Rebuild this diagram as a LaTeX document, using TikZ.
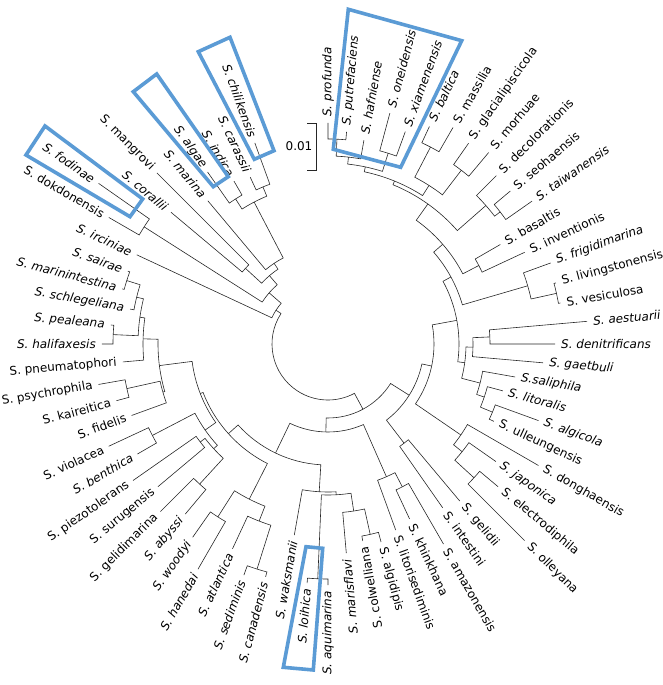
\documentclass[tikz,border=0pt]{standalone}
\usepackage{fontspec}
\setmainfont{DejaVu Sans}
\definecolor{boxblue}{RGB}{91,155,213}
\tikzset{
  branch/.style={line width=0.6pt, black!85},
  lab/.style={inner sep=2pt, font=\fontsize{12}{14}\selectfont},
  rlab/.style={lab, anchor=west, rotate=#1},
  llab/.style={lab, anchor=east, rotate=#1-180},
  hilite/.style={draw=boxblue, line width=3.6pt, line join=miter}
}
\newcommand{\clade}[5]{\draw[branch] (#2:#3) -- (#2:#1) arc[start angle=#2, end angle=#4, radius=#1] -- (#4:#5);}
\newcommand{\rleaf}[4]{\node[rlab=#2] (#1) at (#2:{#3+4}) {#4};}
\newcommand{\lleaf}[4]{\node[llab=#2] (#1) at (#2:{#3+4}) {#4};}
\begin{document}
\begin{tikzpicture}[x=1pt, y=1pt]
\useasboundingbox (-328,-341) rectangle (335,344);

% upper left
\clade{56}{147}{62}{298.2}{74}
\clade{62}{139}{78}{155}{211}
\clade{78}{130.6}{90}{147.5}{218}
\clade{218}{145}{280}{150}{253}
\clade{90}{123.75}{97}{137.5}{112}
\clade{112}{135}{242}{140}{205}
\clade{97}{117.5}{160}{130}{187}
\clade{160}{112.5}{170}{122.5}{172}
\clade{170}{110}{214}{115}{184}
\clade{172}{120}{188}{125}{210}
% lower half
\clade{74}{268.6}{88}{327.75}{96}
\clade{88}{244.3}{121}{293.75}{145}
\clade{121}{222}{134}{266.6}{148}
\clade{134}{201.2}{137}{243.1}{174}
\clade{137}{187.3}{170}{215}{150}
\clade{170}{178.4}{185}{196.25}{172}
\clade{185}{171.9}{190}{185}{206}
\clade{190}{166.25}{197}{177.5}{215}
\clade{197}{162.5}{211}{170}{201}
\clade{211}{160}{213}{165}{213}
\clade{215}{175}{218}{180}{226}
\clade{172}{192.5}{206}{200}{209}
\clade{206}{190}{233}{195}{219}
\clade{150}{207.5}{198}{222.5}{155}
\clade{198}{205}{242}{210}{220}
\clade{155}{217.5}{161}{227.5}{190}
\clade{161}{215}{238}{220}{222}
\clade{190}{225}{237}{230}{222}
\clade{174}{237.5}{205}{248.75}{190}
\clade{205}{235}{236}{240}{260}
\clade{190}{245}{226}{252.5}{236}
\clade{236}{250}{246}{255}{241}
\clade{148}{260}{194}{273.1}{151}
\clade{151}{267.5}{235}{278.75}{169}
\clade{235}{265}{240}{270}{241}
\clade{169}{275}{210}{282.5}{195}
\clade{195}{280}{200}{285}{205}
\clade{145}{290}{198}{297.5}{161}
\clade{161}{295}{193}{300}{231}
% right
\clade{96}{307.5}{125}{348}{106}
\clade{125}{305}{200}{310}{205}
\clade{106}{325.6}{161}{370.4}{131}
\clade{161}{321.25}{172}{330}{243}
\clade{172}{317.5}{198}{325}{205}
\clade{198}{315}{278}{320}{222}
\clade{131}{352.2}{138}{388.6}{140}
\clade{138}{345.6}{157}{358.75}{145}
\clade{157}{341.25}{165}{350}{190}
\clade{165}{337.5}{178}{345}{181}
\clade{178}{335}{183}{340}{224}
\clade{145}{355}{216}{362.5}{162}
\clade{162}{360}{227}{365}{260}
% top
\clade{140}{16.25}{208}{41}{152}
\clade{208}{12.5}{234}{20}{237}
\clade{234}{10}{236}{15}{236}
\clade{152}{27.5}{170}{54.5}{172}
\clade{170}{25}{217}{30}{199}
\clade{172}{41.25}{210}{67.8}{176}
\clade{210}{37.5}{217}{45}{238}
\clade{217}{35}{249}{40}{238}
\clade{176}{57.5}{188}{78.1}{181}
\clade{188}{52.5}{219}{62.5}{222}
\clade{219}{50}{250}{55}{245}
\clade{222}{60}{250}{65}{240}
\clade{181}{72.5}{200}{83.75}{188}
\clade{200}{70}{226}{75}{239}
\clade{188}{80}{207}{87.5}{205}
\clade{205}{85}{213}{90}{221}

\rleaf{profunda}{90}{221}{\textit{S. profunda}}
\rleaf{putrefaciens}{85}{213}{\textit{S. putrefaciens}}
\rleaf{hafniense}{80}{207}{\textit{S. hafniense}}
\rleaf{oneidensis}{75}{239}{\textit{S. oneidensis}}
\rleaf{xiamenensis}{70}{226}{\textit{S. xiamenensis}}
\rleaf{baltica}{65}{240}{\textit{S. baltica}}
\rleaf{massilia}{60}{250}{S. massilia}
\rleaf{glacialipiscicola}{55}{245}{S. glacialipiscicola}
\rleaf{morhuae}{50}{250}{S. morhuae}
\rleaf{decolorationis}{45}{238}{S. decolorationis}
\rleaf{seohaensis}{40}{238}{S. seohaensis}
\rleaf{taiwanensis}{35}{249}{\textit{S. taiwanensis}}
\rleaf{basaltis}{30}{199}{S. basaltis}
\rleaf{inventionis}{25}{217}{S. inventionis}
\rleaf{frigidimarina}{20}{237}{\textit{S. frigidimarina}}
\rleaf{livingstonensis}{15}{236}{S. livingstonensis}
\rleaf{vesiculosa}{10}{236}{S. vesiculosa}
\rleaf{aestuarii}{5}{260}{\textit{S. aestuarii}}
\rleaf{denitrificans}{0}{227}{\textit{S. denitrificans}}
\rleaf{gaetbuli}{355}{216}{\textit{S. gaetbuli}}
\rleaf{saliphila}{350}{190}{\textit{S.saliphila}}
\rleaf{litoralis}{345}{181}{\textit{S. litoralis}}
\rleaf{algicola}{340}{224}{\textit{S. algicola}}
\rleaf{ulleungensis}{335}{183}{S. ulleungensis}
\rleaf{donghaensis}{330}{243}{S. donghaensis}
\rleaf{japonica}{325}{205}{\textit{S. japonica}}
\rleaf{electrodiphila}{320}{222}{S. electrodiphila}
\rleaf{olleyana}{315}{278}{S. olleyana}
\rleaf{gelidii}{310}{205}{S. gelidii}
\rleaf{intestini}{305}{200}{S. intestini}
\rleaf{amazonensis}{300}{231}{S. amazonensis}
\rleaf{khinkhana}{295}{193}{S. khinkhana}
\rleaf{litorisediminis}{290}{198}{S. litorisediminis}
\rleaf{algidipis}{285}{205}{S. algidipis}
\lleaf{colwelliana}{280}{200}{S. colwelliana}
\lleaf{marisflavi}{275}{210}{\textit{S. marisflavi}}
\lleaf{aquimarina}{270}{241}{\textit{S. aquimarina}}
\lleaf{loihica}{265}{240}{\textit{S. loihica}}
\lleaf{waksmanii}{260}{194}{\textit{S. waksmanii}}
\lleaf{canadensis}{255}{241}{\textit{S. canadensis}}
\lleaf{sediminis}{250}{246}{\textit{S. sediminis}}
\lleaf{atlantica}{245}{226}{\textit{S. atlantica}}
\lleaf{hanedai}{240}{260}{\textit{S. hanedai}}
\lleaf{woodyi}{235}{236}{\textit{S. woodyi}}
\lleaf{abyssi}{230}{222}{\textit{S. abyssi}}
\lleaf{gelidimarina}{225}{237}{S. gelidimarina}
\lleaf{surugensis}{220}{222}{S. surugensis}
\lleaf{piezotolerans}{215}{238}{S. piezotolerans}
\lleaf{benthica}{210}{220}{\textit{S. benthica}}
\lleaf{violacea}{205}{242}{S. violacea}
\lleaf{fidelis}{200}{209}{S. fidelis}
\lleaf{kaireitica}{195}{219}{S. kaireitica}
\lleaf{psychrophila}{190}{233}{S. psychrophila}
\lleaf{pneumatophori}{185}{206}{S. pneumatophori}
\lleaf{halifaxesis}{180}{226}{\textit{S. halifaxesis}}
\lleaf{pealeana}{175}{218}{\textit{S. pealeana}}
\lleaf{schlegeliana}{170}{201}{\textit{S. schlegeliana}}
\lleaf{marinintestina}{165}{213}{\textit{S. marinintestina}}
\lleaf{sairae}{160}{213}{\textit{S. sairae}}
\lleaf{irciniae}{155}{211}{\textit{S. irciniae}}
\lleaf{dokdonensis}{150}{253}{S. dokdonensis}
\lleaf{fodinae}{145}{280}{\textit{S. fodinae}}
\lleaf{corallii}{140}{205}{\textit{S. corallii}}
\lleaf{mangrovi}{135}{242}{S. mangrovi}
\lleaf{marina}{130}{187}{\textit{S. marina}}
\lleaf{algae}{125}{210}{\textit{S. algae}}
\lleaf{indica}{120}{188}{\textit{S. indica}}
\lleaf{carassii}{115}{184}{\textit{S. carassii}}
\lleaf{chilikensis}{110}{214}{\textit{S. chilikensis}}

% scale bar
\draw[branch] (-21,221) -- (-12,221) -- (-12,174) -- (-21,174);
\node[lab] (scalelab) at (-29,198) {0.01};

% highlighted species
\draw[hilite] (-129.7,292.3) -- (-98,306.7) -- (-54,193.3) -- (-73.7,184.7) -- cycle;
\draw[hilite] (-194.7,252.3) -- (-171.3,270) -- (-99.7,167.3) -- (-114.7,157.3) -- cycle;
\draw[hilite] (-302,189) -- (-283,218) -- (-185.3,145) -- (-198,127.3) -- cycle;
\draw[hilite] (20.3,334.7) -- (133.7,303.3) -- (72.7,176.7) -- (5.3,194.7) -- cycle;
\draw[hilite] (-22,-202.7) -- (-5.3,-204.3) -- (-14.7,-326) -- (-44.7,-323.3) -- cycle;
\end{tikzpicture}
\end{document}
